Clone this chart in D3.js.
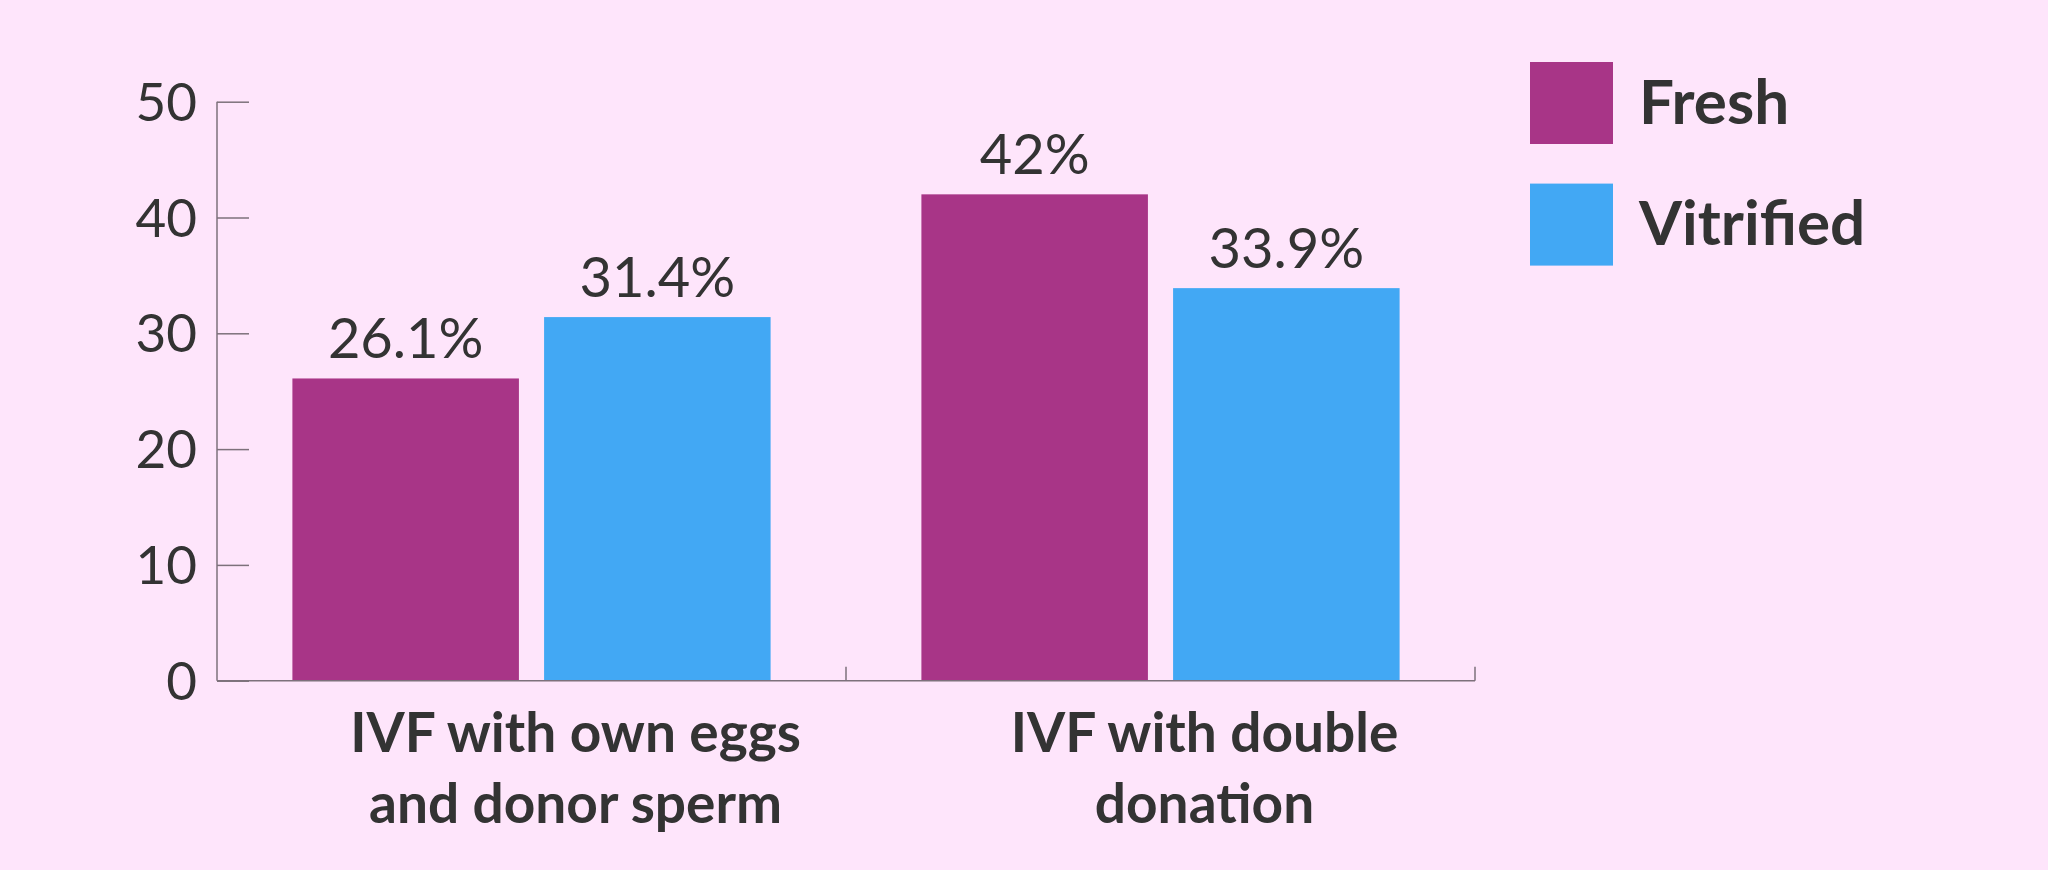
<!DOCTYPE html>
<html>
<head>
<meta charset="utf-8">
<script src="https://cdn.jsdelivr.net/npm/d3@7"></script>
<style>
  html, body { margin: 0; padding: 0; background: #fee5fb; }
  svg { display: block; }
</style>
</head>
<body>
<div id="chart"></div>
<script>
// data
var categories = [
    ["IVF with own eggs", "and donor sperm"],
    ["IVF with double", "donation"]
];
var seriesNames = ["Fresh", "Vitrified"];
var freshValues = [26.1, 42];
var vitrifiedValues = [31.4, 33.9];
var valueLabels = [["26.1%", "31.4%"], ["42%", "33.9%"]];
var yTicks = [0, 10, 20, 30, 40, 50];

var colors = ["#a83587", "#42a8f4"];
var width = 2048, height = 870;

var svg = d3.select("#chart")
    .append("svg")
    .attr("width", width)
    .attr("height", height);

svg.append("rect")
    .attr("width", width)
    .attr("height", height)
    .attr("fill", "#fee5fb");

var y = d3.scaleLinear().domain([0, 50]).range([680.7, 101.7]);

var x0 = d3.scaleBand()
    .domain(d3.range(categories.length))
    .range([217, 1475])
    .padding(0);

var x1 = d3.scaleBand()
    .domain(seriesNames)
    .range([75.4, x0.bandwidth() - 75.4])
    .paddingInner(0.1)
    .paddingOuter(0);

var rows = categories.map(function (c, i) {
    return {
        index: i,
        values: [
            { name: seriesNames[0], value: freshValues[i], label: valueLabels[i][0] },
            { name: seriesNames[1], value: vitrifiedValues[i], label: valueLabels[i][1] }
        ]
    };
});

// y axis
var yAxis = svg.append("g")
    .attr("transform", "translate(217,0)")
    .call(d3.axisRight(y).tickValues(yTicks).tickSize(32).tickFormat(""));
yAxis.select(".domain").remove();
yAxis.selectAll(".tick line").attr("stroke", "#7d717b").attr("stroke-width", 1.5);

svg.append("line")
    .attr("x1", 217).attr("x2", 217)
    .attr("y1", y(50)).attr("y2", y(0))
    .attr("stroke", "#7d717b").attr("stroke-width", 1.5);

svg.append("g").selectAll("text")
    .data(yTicks)
    .enter().append("text")
    .attr("x", 197)
    .attr("y", function (d) { return y(d); })
    .attr("dy", "0.36em")
    .attr("text-anchor", "end")
    .attr("font-family", "Lato")
    .attr("font-size", 53)
    .attr("fill", "#333")
    .text(function (d) { return d; });

// groups of bars
var group = svg.selectAll("g.group")
    .data(rows)
    .enter().append("g")
    .attr("class", "group")
    .attr("transform", function (d) { return "translate(" + x0(d.index) + ",0)"; });

group.selectAll("rect")
    .data(function (d) { return d.values; })
    .enter().append("rect")
    .attr("x", function (d) { return x1(d.name); })
    .attr("y", function (d) { return y(d.value); })
    .attr("width", x1.bandwidth())
    .attr("height", function (d) { return y(0) - y(d.value); })
    .attr("fill", function (d, i) { return colors[i]; });

group.selectAll("text.value")
    .data(function (d) { return d.values; })
    .enter().append("text")
    .attr("class", "value")
    .attr("x", function (d) { return x1(d.name) + x1.bandwidth() / 2; })
    .attr("y", function (d) { return y(d.value) - 20; })
    .attr("text-anchor", "middle")
    .attr("font-family", "Lato")
    .attr("font-size", 56)
    .attr("fill", "#333")
    .text(function (d) { return d.label; });

// x axis line with ticks at band edges
svg.append("line")
    .attr("x1", 217).attr("x2", 1475)
    .attr("y1", y(0)).attr("y2", y(0))
    .attr("stroke", "#7d717b").attr("stroke-width", 1.5);

svg.append("g").selectAll("line")
    .data(d3.range(1, categories.length + 1))
    .enter().append("line")
    .attr("x1", function (d) { return x0(0) + d * x0.step(); })
    .attr("x2", function (d) { return x0(0) + d * x0.step(); })
    .attr("y1", y(0))
    .attr("y2", y(0) - 14)
    .attr("stroke", "#7d717b").attr("stroke-width", 1.5);

// category labels
var cat = svg.append("g").selectAll("text")
    .data(rows)
    .enter().append("text")
    .attr("x", function (d) { return x0(d.index) + x0.bandwidth() / 2 + 44; })
    .attr("y", 752)
    .attr("text-anchor", "middle")
    .attr("font-family", "Lato")
    .attr("font-weight", "bold")
    .attr("font-size", 55)
    .attr("fill", "#333");

cat.selectAll("tspan")
    .data(function (d) { return categories[d.index]; })
    .enter().append("tspan")
    .attr("x", function () { return d3.select(this.parentNode).attr("x"); })
    .attr("dy", function (d, i) { return i === 0 ? 0 : 71; })
    .text(function (d) { return d; });

// legend
var legend = svg.append("g").selectAll("g")
    .data(seriesNames)
    .enter().append("g")
    .attr("transform", function (d, i) { return "translate(1530," + (62 + i * 121.6) + ")"; });

legend.append("rect")
    .attr("width", 83)
    .attr("height", 82)
    .attr("fill", function (d, i) { return colors[i]; });

legend.append("text")
    .attr("x", 109)
    .attr("y", 61.5)
    .attr("font-family", "Lato")
    .attr("font-weight", "bold")
    .attr("font-size", 62)
    .attr("fill", "#333")
    .text(function (d) { return d; });
</script>
</body>
</html>
